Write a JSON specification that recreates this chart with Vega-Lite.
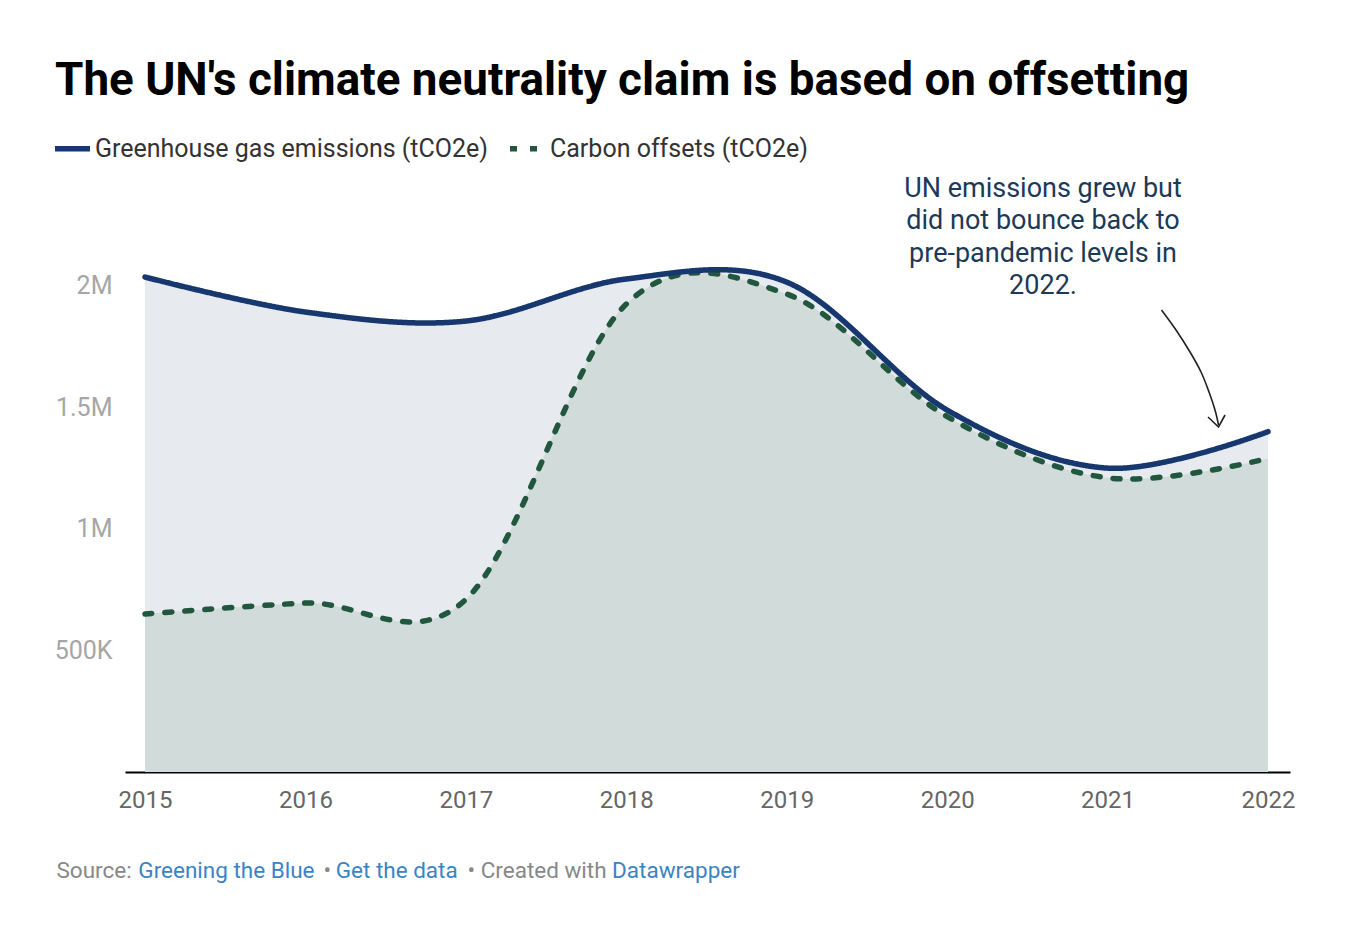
{
  "$schema": "https://vega.github.io/schema/vega-lite/v6.json",
  "width": 1165,
  "height": 592,
  "autosize": {"type": "none"},
  "padding": {"left": 125, "top": 180, "right": 64, "bottom": 178},
  "background": "#ffffff",
  "config": {
    "font": "Roboto",
    "view": {"stroke": null},
    "axis": {"grid": false, "ticks": false, "labelFont": "Roboto", "titleFont": "Roboto"}
  },
  "title": {
    "text": "The UN's climate neutrality claim is based on offsetting",
    "anchor": "start",
    "frame": "group",
    "dx": -70,
    "offset": 23,
    "fontSize": 45.8,
    "fontWeight": "bold",
    "font": "Roboto",
    "color": "#000000"
  },
  "datasets": {
    "series": [
      {"year": 2015, "series": "Greenhouse gas emissions (tCO2e)", "value": 2036000},
      {"year": 2016, "series": "Greenhouse gas emissions (tCO2e)", "value": 1892000},
      {"year": 2017, "series": "Greenhouse gas emissions (tCO2e)", "value": 1855000},
      {"year": 2018, "series": "Greenhouse gas emissions (tCO2e)", "value": 2028000},
      {"year": 2019, "series": "Greenhouse gas emissions (tCO2e)", "value": 2015000},
      {"year": 2020, "series": "Greenhouse gas emissions (tCO2e)", "value": 1489000},
      {"year": 2021, "series": "Greenhouse gas emissions (tCO2e)", "value": 1250000},
      {"year": 2022, "series": "Greenhouse gas emissions (tCO2e)", "value": 1400000},
      {"year": 2015, "series": "Carbon offsets (tCO2e)", "value": 650000},
      {"year": 2016, "series": "Carbon offsets (tCO2e)", "value": 695000},
      {"year": 2017, "series": "Carbon offsets (tCO2e)", "value": 710000},
      {"year": 2018, "series": "Carbon offsets (tCO2e)", "value": 1925000},
      {"year": 2019, "series": "Carbon offsets (tCO2e)", "value": 1966000},
      {"year": 2020, "series": "Carbon offsets (tCO2e)", "value": 1462000},
      {"year": 2021, "series": "Carbon offsets (tCO2e)", "value": 1210000},
      {"year": 2022, "series": "Carbon offsets (tCO2e)", "value": 1290000}
    ],
    "note": [
      {"year": 2020.5975, "value": 2398100, "note": "UN emissions grew but\ndid not bounce back to\npre-pandemic levels in\n2022."}
    ],
    "arrow": [
      {"year": 2021.336, "value": 1900400},
      {"year": 2021.4265, "value": 1818100},
      {"year": 2021.5138, "value": 1727600},
      {"year": 2021.5824, "value": 1645400},
      {"year": 2021.6322, "value": 1563100},
      {"year": 2021.6696, "value": 1489100},
      {"year": 2021.6915, "value": 1427400}
    ],
    "head": [
      {"year": 2021.626, "value": 1460300},
      {"year": 2021.6915, "value": 1419200},
      {"year": 2021.7321, "value": 1468500}
    ]
  },
  "layer": [
    {
      "data": {"name": "series"},
      "transform": [{"filter": "datum.series === 'Greenhouse gas emissions (tCO2e)'"}],
      "mark": {"type": "area", "interpolate": "cardinal", "fill": "#e7eaee"},
      "encoding": {
        "x": {
          "field": "year", "type": "quantitative",
          "scale": {"domain": [2014.8753, 2022.137], "nice": false, "zero": false},
          "axis": {
            "orient": "bottom",
            "values": [2015, 2016, 2017, 2018, 2019, 2020, 2021, 2022],
            "format": "d",
            "labelFontSize": 24,
            "labelColor": "#666666",
            "labelPadding": 16,
            "labelFlush": false,
            "domainColor": "#000000",
            "domainWidth": 2,
            "ticks": false,
            "grid": false,
            "title": "Source:",
            "titleX": -69,
            "titleY": 98,
            "titleAnchor": "start",
            "titleAlign": "left",
            "titleBaseline": "middle",
            "titleFontSize": 22.5,
            "titleFontWeight": "normal",
            "titleColor": "#888888"
          }
        },
        "y": {
          "field": "value", "type": "quantitative",
          "scale": {"domain": [0, 2435200], "nice": false},
          "axis": {
            "orient": "left",
            "values": [500000, 1000000, 1500000, 2000000],
            "labelExpr": "datum.value >= 1000000 ? format(datum.value / 1000000, '') + 'M' : format(datum.value / 1000, '') + 'K'",
            "labelFontSize": 25,
            "labelColor": "#a6a6a6",
            "labelPadding": 13,
            "domain": false,
            "ticks": false,
            "grid": false,
            "title": null
          }
        }
      }
    },
    {
      "data": {"name": "series"},
      "transform": [{"filter": "datum.series === 'Carbon offsets (tCO2e)'"}],
      "mark": {"type": "area", "interpolate": "cardinal", "fill": "#d1dbd9"},
      "encoding": {
        "x": {
          "field": "year", "type": "quantitative",
          "axis": {
            "orient": "bottom", "labels": false, "domain": false, "ticks": false, "grid": false,
            "title": "Greening the Blue", "titleX": 12.8, "titleY": 98, "titleAnchor": "start",
            "titleAlign": "left", "titleBaseline": "middle", "titleFontSize": 22.5,
            "titleFontWeight": "normal", "titleColor": "#3a84c5"
          }
        },
        "y": {"field": "value", "type": "quantitative", "axis": null}
      }
    },
    {
      "mark": {"type": "rule", "color": "#000000", "opacity": 0.08, "strokeWidth": 1},
      "encoding": {"y": {"datum": 1732000, "type": "quantitative", "axis": null}}
    },
    {
      "data": {"name": "series"},
      "transform": [{"filter": "datum.series === 'Carbon offsets (tCO2e)'"}],
      "mark": {"type": "line", "interpolate": "cardinal", "strokeWidth": 5.5, "strokeCap": "round"},
      "encoding": {
        "x": {
          "field": "year", "type": "quantitative",
          "axis": {
            "orient": "bottom", "labels": false, "domain": false, "ticks": false, "grid": false,
            "title": "•", "titleX": 198, "titleY": 98, "titleAnchor": "start",
            "titleAlign": "left", "titleBaseline": "middle", "titleFontSize": 22.5,
            "titleFontWeight": "normal", "titleColor": "#888888"
          }
        },
        "y": {"field": "value", "type": "quantitative", "axis": null},
        "color": {
          "field": "series", "type": "nominal",
          "scale": {"domain": ["Greenhouse gas emissions (tCO2e)", "Carbon offsets (tCO2e)"], "range": ["#17376f", "#22573f"]},
          "legend": {
            "orient": "none", "legendX": -73, "legendY": -52, "direction": "horizontal", "title": null,
            "symbolType": "stroke", "symbolSize": 1225, "symbolStrokeWidth": 5.5,
            "labelFontSize": 25, "labelColor": "#333333", "labelFont": "Roboto", "labelOffset": 2,
            "columnPadding": 10, "labelLimit": 600
          }
        },
        "strokeDash": {
          "field": "series", "type": "nominal",
          "scale": {"domain": ["Greenhouse gas emissions (tCO2e)", "Carbon offsets (tCO2e)"], "range": [[1, 0], [7, 13]]},
          "legend": {
            "orient": "none", "legendX": -73, "legendY": -52, "direction": "horizontal", "title": null,
            "symbolType": "stroke", "symbolSize": 1225, "symbolStrokeWidth": 5.5,
            "labelFontSize": 25, "labelColor": "#333333", "labelFont": "Roboto", "labelOffset": 2,
            "columnPadding": 10, "labelLimit": 600
          }
        }
      }
    },
    {
      "data": {"name": "series"},
      "transform": [{"filter": "datum.series === 'Greenhouse gas emissions (tCO2e)'"}],
      "mark": {"type": "line", "interpolate": "cardinal", "strokeWidth": 5.5, "strokeCap": "round"},
      "encoding": {
        "x": {
          "field": "year", "type": "quantitative",
          "axis": {
            "orient": "bottom", "labels": false, "domain": false, "ticks": false, "grid": false,
            "title": "Get the data", "titleX": 210.2, "titleY": 98, "titleAnchor": "start",
            "titleAlign": "left", "titleBaseline": "middle", "titleFontSize": 22.5,
            "titleFontWeight": "normal", "titleColor": "#3a84c5"
          }
        },
        "y": {"field": "value", "type": "quantitative", "axis": null},
        "color": {"field": "series", "type": "nominal"},
        "strokeDash": {"field": "series", "type": "nominal"}
      }
    },
    {
      "data": {"name": "note"},
      "mark": {"type": "text", "align": "center", "baseline": "middle", "lineBreak": "\n", "lineHeight": 32.4, "fontSize": 27, "font": "Roboto", "color": "#1c3a57"},
      "encoding": {
        "x": {
          "field": "year", "type": "quantitative",
          "axis": {
            "orient": "bottom", "labels": false, "domain": false, "ticks": false, "grid": false,
            "title": "• Created with", "titleX": 342, "titleY": 98, "titleAnchor": "start",
            "titleAlign": "left", "titleBaseline": "middle", "titleFontSize": 22.5,
            "titleFontWeight": "normal", "titleColor": "#888888"
          }
        },
        "y": {"field": "value", "type": "quantitative", "axis": null},
        "text": {"field": "note"}
      }
    },
    {
      "data": {"name": "arrow"},
      "mark": {"type": "line", "interpolate": "cardinal", "strokeWidth": 1.6, "color": "#222222"},
      "encoding": {
        "x": {
          "field": "year", "type": "quantitative",
          "axis": {
            "orient": "bottom", "labels": false, "domain": false, "ticks": false, "grid": false,
            "title": "Datawrapper", "titleX": 486.6, "titleY": 98, "titleAnchor": "start",
            "titleAlign": "left", "titleBaseline": "middle", "titleFontSize": 22.5,
            "titleFontWeight": "normal", "titleColor": "#3a84c5"
          }
        },
        "y": {"field": "value", "type": "quantitative", "axis": null}
      }
    },
    {
      "data": {"name": "head"},
      "mark": {"type": "line", "strokeWidth": 1.6, "color": "#222222", "strokeJoin": "miter"},
      "encoding": {
        "x": {"field": "year", "type": "quantitative", "axis": null},
        "y": {"field": "value", "type": "quantitative", "axis": null}
      }
    }
  ],
  "resolve": {"axis": {"x": "independent", "y": "independent"}}
}
